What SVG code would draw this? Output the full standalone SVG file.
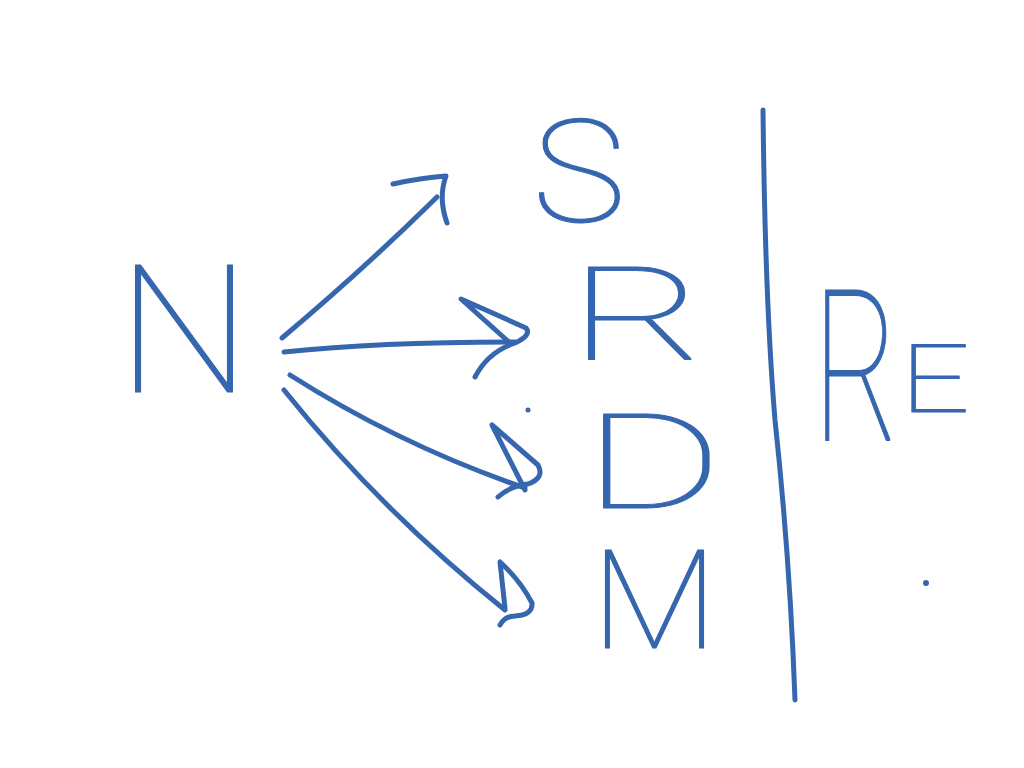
<svg xmlns="http://www.w3.org/2000/svg" width="1024" height="768" viewBox="0 0 1024 768">
<style>
.ink{fill:none;stroke:#3566ae;stroke-width:5;stroke-linecap:round;stroke-linejoin:round}
.lt{fill:#3566ae;stroke:#3566ae;stroke-width:1;stroke-linejoin:round;font-family:Roboto,"DejaVu Sans",sans-serif;font-weight:100}
.dot{fill:#3566ae}
</style>
<rect width="1024" height="768" fill="#ffffff"/>
<g id="node-N"><text class="lt" x="117" y="392" font-size="178" textLength="134" lengthAdjust="spacingAndGlyphs">N</text></g>
<g id="node-S"><text class="lt" x="532" y="222" font-size="143" textLength="94" lengthAdjust="spacingAndGlyphs">S</text></g>
<g id="node-R"><text class="lt" x="569" y="360" font-size="130" textLength="136" lengthAdjust="spacingAndGlyphs">R</text></g>
<g id="node-D"><text class="lt" x="583" y="508" font-size="131" textLength="140" lengthAdjust="spacingAndGlyphs">D</text></g>
<g id="node-M"><text class="lt" x="591" y="648" font-size="138" textLength="127" lengthAdjust="spacingAndGlyphs">M</text></g>
<g id="node-RE">
<text class="lt" x="813" y="440" font-size="211" textLength="86" lengthAdjust="spacingAndGlyphs">R</text>
<text class="lt" x="900" y="412" font-size="95" textLength="70" lengthAdjust="spacingAndGlyphs">E</text>
</g>
<g id="divider"><path class="ink" d="M763,110 Q765,300 775,420 Q790,560 795,700"/></g>
<g id="connectors">
<path class="ink" d="M282,338 Q365,268 437,197"/>
<path class="ink" d="M393,184 Q420,178 446,176 Q438,198 447,223"/>
<path class="ink" d="M284,352 Q380,342 515,342"/>
<path class="ink" d="M475,377 Q488,352 515,343 Q532,335 526,328 L461,299 L510,343"/>
<path class="ink" d="M290,375 Q400,445 525,488"/>
<path class="ink" d="M498,497 Q510,486 528,484 Q545,478 538,465 L492,425 L525,490"/>
<path class="ink" d="M284,390 Q380,510 505,610"/>
<path class="ink" d="M500,625 Q505,616 515,616 Q533,615 532,603 Q520,580 500,562 L505,608"/>
</g>
<circle class="dot" cx="528" cy="410" r="2.5"/>
<circle class="dot" cx="926" cy="583" r="3"/>
</svg>
